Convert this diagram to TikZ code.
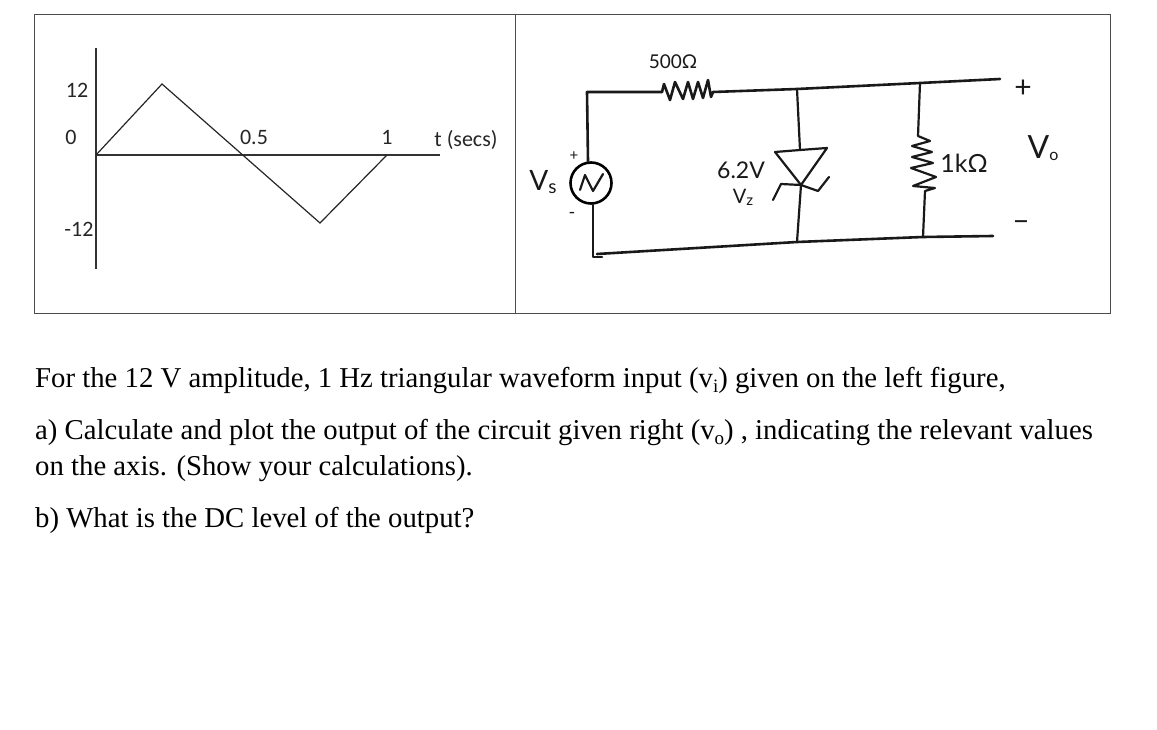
\documentclass[tikz,border=0pt]{standalone}
\usepackage{fontspec}
\setmainfont{Liberation Serif}
\newfontfamily\labelfont{Carlito}
\newfontfamily\handfont{Lato}
\newcommand{\subs}[1]{\raisebox{-0.2em}{\fontsize{19}{19}\selectfont #1}}
\tikzset{
  x=1pt,y=-1pt,
  frameline/.style={draw=black!70,line width=1pt},
  axisline/.style={draw=black!80,line width=1.6pt},
  waveline/.style={draw=black!85,line width=1.2pt},
  wire/.style={draw=black!90,line width=2.6pt,line join=round,line cap=round},
  thinwire/.style={draw=black!90,line width=2.2pt,line join=round,line cap=round},
  ticklabel/.style={font=\labelfont\fontsize{22}{26}\selectfont,text=black!85,inner sep=0pt},
  handlabel/.style={font=\handfont\fontsize{19}{22}\selectfont,inner sep=0pt,text=black!90},
  bodytext/.style={font=\fontsize{28.75}{34}\selectfont,anchor=base west,inner sep=0pt},
}
\begin{document}
\begin{tikzpicture}
\useasboundingbox (0,0) rectangle (1157,730);
\fill[white] (0,0) rectangle (1157,730);
% frames
\node[frameline,minimum width=481pt,minimum height=298pt,inner sep=0pt] (leftbox) at (275,164) {};
\node[frameline,minimum width=595pt,minimum height=298pt,inner sep=0pt] (rightbox) at (813,164) {};
% graph
\coordinate (ytop) at (96,48);
\coordinate (ybot) at (96,269);
\coordinate (o) at (96,155);
\coordinate (xend) at (440,155);
\coordinate (wa) at (162,84);
\coordinate (wb) at (320,223);
\coordinate (wc) at (387,155);
\draw[axisline] (ytop) -- (ybot);
\draw[axisline] (o) -- (xend);
\draw[waveline] (o) -- (wa) -- (wb) -- (wc);
\node[ticklabel] (l12) at (77,90) {12};
\node[ticklabel] (l0) at (71,137) {0};
\node[ticklabel] (lm12) at (79,229) {-12};
\node[ticklabel] (l05) at (254,137) {0.5};
\node[ticklabel] (l1) at (387,137) {1};
\node[ticklabel] (lt) at (466,140) {t (secs)};
% circuit
\node[draw=black,line width=2.6pt,circle,minimum size=41pt,inner sep=0pt] (src) at (591,183) {};
\coordinate (tl) at (587,92);
\coordinate (r1a) at (662,92);
\coordinate (r1b) at (713,92);
\coordinate (jd) at (797,89);
\coordinate (jr) at (920,83);
\coordinate (outp) at (1000,79);
\coordinate (bl) at (593,257);
\coordinate (blstub) at (602,257);
\coordinate (jdb) at (797,242);
\coordinate (jrb) at (923,237);
\coordinate (outm) at (993,236);
\coordinate (dtop) at (800,150);
\coordinate (dapex) at (801,185);
\draw[wire] (src.north) ++(-3,0) -- (tl) -- (r1a);
\draw[wire] (r1a) -- (664,84) -- (670,100) -- (675,82) -- (683,99) -- (688,82) -- (693,99) -- (698,82) -- (703,98) -- (708,80) -- (711,97) -- (r1b);
\draw[wire] (r1b) -- (jd) -- (jr) -- (outp);
\draw[wire] (src.south) ++(2,0) -- (bl) -- (blstub);
\draw[wire] (597,254) -- (jdb) -- (jrb) -- (outm);
\draw[thinwire] (jd) -- (dtop);
\draw[thinwire] (775,152) -- (dtop) -- (827,148) -- (dapex) -- cycle;
\draw[thinwire] (773,200) -- (781,184) -- (dapex) -- (818,191) -- (829,177);
\draw[thinwire] (dapex) -- (jdb);
\draw[thinwire] (jr) -- (918,136) -- (930,141) -- (912,146) -- (932,152) -- (912,157) -- (933,163) -- (911,168) -- (936,177) -- (913,186) -- (935,188) -- (925,191) -- (jrb);
% source symbol
\draw[thinwire] (580,190) -- (585,175) -- (593,191) -- (603,174);
% handwritten labels
\node[handlabel] (r1l) at (673,62) {500Ω};
\node[handlabel,font=\handfont\fontsize{28}{30}\selectfont] (vsl) at (543,182) {V\raisebox{-0.1em}{\fontsize{19}{19}\selectfont s}};
\node[handlabel,font=\handfont\fontsize{15}{16}\selectfont] (pl) at (574,156) {+};
\node[handlabel,font=\handfont\fontsize{18}{18}\selectfont] (ml) at (572,215) {-};
\node[handlabel,font=\handfont\fontsize{23}{26}\selectfont] (vzv) at (741,170) {6.2V};
\node[handlabel,font=\handfont\fontsize{20}{22}\selectfont] (vzl) at (743,197) {V\raisebox{-0.1em}{\fontsize{15}{15}\selectfont z}};
\node[handlabel,font=\handfont\fontsize{25}{28}\selectfont] (r2l) at (964,163) {1kΩ};
\node[handlabel,font=\handfont\fontsize{30}{32}\selectfont] (pout) at (1023,89) {+};
\node[handlabel,font=\handfont\fontsize{32}{34}\selectfont] (vo) at (1043,148) {V\raisebox{-0.05em}{\fontsize{16}{16}\selectfont o}};
\node[handlabel,font=\handfont\fontsize{30}{32}\selectfont] (mout) at (1021,226) {–};
% body text
\node[bodytext] (t1) at (35,387) {For the 12 V amplitude, 1 Hz triangular waveform input (v\subs{i}) given on the left figure,};
\node[bodytext] (t2) at (35,439) {a) Calculate and plot the output of the circuit given right (v\subs{o}) , indicating the relevant values};
\node[bodytext] (t3) at (35,475) {on the axis. (Show your calculations).};
\node[bodytext] (t4) at (35,527) {b) What is the DC level of the output?};
\end{tikzpicture}
\end{document}
